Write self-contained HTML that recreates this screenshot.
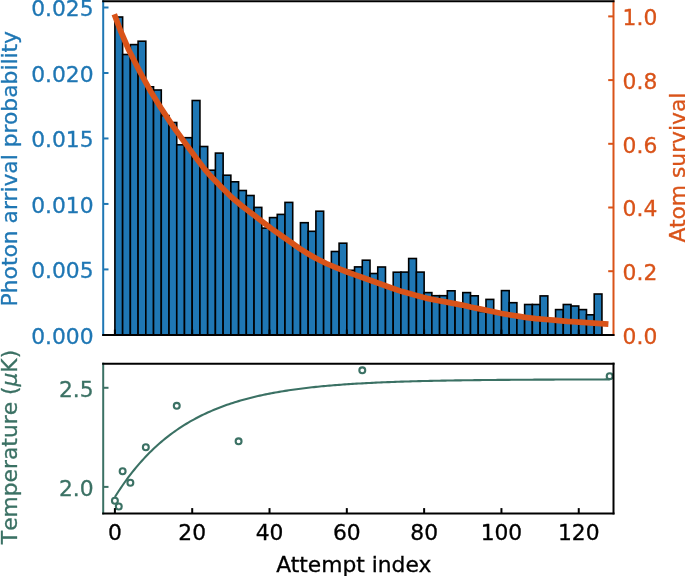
<!DOCTYPE html>
<html><head><meta charset="utf-8"><style>html,body{margin:0;padding:0;background:#fff;width:685px;height:576px;overflow:hidden}body{position:relative}</style></head>
<body>
<svg width="685" height="576" viewBox="0 0 685 576" style="position:absolute;left:0;top:0">
<rect width="685" height="576" fill="#fff"/>
<g>
<rect x="114.90" y="17.00" width="7.73" height="317.90" fill="#1f77b4" stroke="#000" stroke-width="1.6"/>
<rect x="122.63" y="54.50" width="7.73" height="280.40" fill="#1f77b4" stroke="#000" stroke-width="1.6"/>
<rect x="130.36" y="44.60" width="7.73" height="290.30" fill="#1f77b4" stroke="#000" stroke-width="1.6"/>
<rect x="138.09" y="41.20" width="7.73" height="293.70" fill="#1f77b4" stroke="#000" stroke-width="1.6"/>
<rect x="145.82" y="86.80" width="7.73" height="248.10" fill="#1f77b4" stroke="#000" stroke-width="1.6"/>
<rect x="153.55" y="90.00" width="7.73" height="244.90" fill="#1f77b4" stroke="#000" stroke-width="1.6"/>
<rect x="161.28" y="115.60" width="7.73" height="219.30" fill="#1f77b4" stroke="#000" stroke-width="1.6"/>
<rect x="169.02" y="122.50" width="7.73" height="212.40" fill="#1f77b4" stroke="#000" stroke-width="1.6"/>
<rect x="176.75" y="144.80" width="7.73" height="190.10" fill="#1f77b4" stroke="#000" stroke-width="1.6"/>
<rect x="184.48" y="137.70" width="7.73" height="197.20" fill="#1f77b4" stroke="#000" stroke-width="1.6"/>
<rect x="192.21" y="100.50" width="7.73" height="234.40" fill="#1f77b4" stroke="#000" stroke-width="1.6"/>
<rect x="199.94" y="146.50" width="7.73" height="188.40" fill="#1f77b4" stroke="#000" stroke-width="1.6"/>
<rect x="207.67" y="170.20" width="7.73" height="164.70" fill="#1f77b4" stroke="#000" stroke-width="1.6"/>
<rect x="215.40" y="153.10" width="7.73" height="181.80" fill="#1f77b4" stroke="#000" stroke-width="1.6"/>
<rect x="223.13" y="175.20" width="7.73" height="159.70" fill="#1f77b4" stroke="#000" stroke-width="1.6"/>
<rect x="230.86" y="181.80" width="7.73" height="153.10" fill="#1f77b4" stroke="#000" stroke-width="1.6"/>
<rect x="238.59" y="190.50" width="7.73" height="144.40" fill="#1f77b4" stroke="#000" stroke-width="1.6"/>
<rect x="246.32" y="195.50" width="7.73" height="139.40" fill="#1f77b4" stroke="#000" stroke-width="1.6"/>
<rect x="254.05" y="207.40" width="7.73" height="127.50" fill="#1f77b4" stroke="#000" stroke-width="1.6"/>
<rect x="261.79" y="228.10" width="7.73" height="106.80" fill="#1f77b4" stroke="#000" stroke-width="1.6"/>
<rect x="269.52" y="217.60" width="7.73" height="117.30" fill="#1f77b4" stroke="#000" stroke-width="1.6"/>
<rect x="277.25" y="214.40" width="7.73" height="120.50" fill="#1f77b4" stroke="#000" stroke-width="1.6"/>
<rect x="284.98" y="202.40" width="7.73" height="132.50" fill="#1f77b4" stroke="#000" stroke-width="1.6"/>
<rect x="292.71" y="246.20" width="7.73" height="88.70" fill="#1f77b4" stroke="#000" stroke-width="1.6"/>
<rect x="300.44" y="222.70" width="7.73" height="112.20" fill="#1f77b4" stroke="#000" stroke-width="1.6"/>
<rect x="308.17" y="231.30" width="7.73" height="103.60" fill="#1f77b4" stroke="#000" stroke-width="1.6"/>
<rect x="315.90" y="211.20" width="7.73" height="123.70" fill="#1f77b4" stroke="#000" stroke-width="1.6"/>
<rect x="323.63" y="264.00" width="7.73" height="70.90" fill="#1f77b4" stroke="#000" stroke-width="1.6"/>
<rect x="331.36" y="251.50" width="7.73" height="83.40" fill="#1f77b4" stroke="#000" stroke-width="1.6"/>
<rect x="339.09" y="243.20" width="7.73" height="91.70" fill="#1f77b4" stroke="#000" stroke-width="1.6"/>
<rect x="346.82" y="270.30" width="7.73" height="64.60" fill="#1f77b4" stroke="#000" stroke-width="1.6"/>
<rect x="354.55" y="266.90" width="7.73" height="68.00" fill="#1f77b4" stroke="#000" stroke-width="1.6"/>
<rect x="362.29" y="260.20" width="7.73" height="74.70" fill="#1f77b4" stroke="#000" stroke-width="1.6"/>
<rect x="370.02" y="273.50" width="7.73" height="61.40" fill="#1f77b4" stroke="#000" stroke-width="1.6"/>
<rect x="377.75" y="267.00" width="7.73" height="67.90" fill="#1f77b4" stroke="#000" stroke-width="1.6"/>
<rect x="385.48" y="287.00" width="7.73" height="47.90" fill="#1f77b4" stroke="#000" stroke-width="1.6"/>
<rect x="393.21" y="272.20" width="7.73" height="62.70" fill="#1f77b4" stroke="#000" stroke-width="1.6"/>
<rect x="400.94" y="272.10" width="7.73" height="62.80" fill="#1f77b4" stroke="#000" stroke-width="1.6"/>
<rect x="408.67" y="258.50" width="7.73" height="76.40" fill="#1f77b4" stroke="#000" stroke-width="1.6"/>
<rect x="416.40" y="272.10" width="7.73" height="62.80" fill="#1f77b4" stroke="#000" stroke-width="1.6"/>
<rect x="424.13" y="292.60" width="7.73" height="42.30" fill="#1f77b4" stroke="#000" stroke-width="1.6"/>
<rect x="431.86" y="295.70" width="7.73" height="39.20" fill="#1f77b4" stroke="#000" stroke-width="1.6"/>
<rect x="439.59" y="295.70" width="7.73" height="39.20" fill="#1f77b4" stroke="#000" stroke-width="1.6"/>
<rect x="447.32" y="290.80" width="7.73" height="44.10" fill="#1f77b4" stroke="#000" stroke-width="1.6"/>
<rect x="455.06" y="303.60" width="7.73" height="31.30" fill="#1f77b4" stroke="#000" stroke-width="1.6"/>
<rect x="462.79" y="292.60" width="7.73" height="42.30" fill="#1f77b4" stroke="#000" stroke-width="1.6"/>
<rect x="470.52" y="295.80" width="7.73" height="39.10" fill="#1f77b4" stroke="#000" stroke-width="1.6"/>
<rect x="478.25" y="311.60" width="7.73" height="23.30" fill="#1f77b4" stroke="#000" stroke-width="1.6"/>
<rect x="485.98" y="299.40" width="7.73" height="35.50" fill="#1f77b4" stroke="#000" stroke-width="1.6"/>
<rect x="493.71" y="312.00" width="7.73" height="22.90" fill="#1f77b4" stroke="#000" stroke-width="1.6"/>
<rect x="501.44" y="290.60" width="7.73" height="44.30" fill="#1f77b4" stroke="#000" stroke-width="1.6"/>
<rect x="509.17" y="302.70" width="7.73" height="32.20" fill="#1f77b4" stroke="#000" stroke-width="1.6"/>
<rect x="516.90" y="316.40" width="7.73" height="18.50" fill="#1f77b4" stroke="#000" stroke-width="1.6"/>
<rect x="524.63" y="304.50" width="7.73" height="30.40" fill="#1f77b4" stroke="#000" stroke-width="1.6"/>
<rect x="532.36" y="304.50" width="7.73" height="30.40" fill="#1f77b4" stroke="#000" stroke-width="1.6"/>
<rect x="540.09" y="295.90" width="7.73" height="39.00" fill="#1f77b4" stroke="#000" stroke-width="1.6"/>
<rect x="547.82" y="319.50" width="7.73" height="15.40" fill="#1f77b4" stroke="#000" stroke-width="1.6"/>
<rect x="555.56" y="309.60" width="7.73" height="25.30" fill="#1f77b4" stroke="#000" stroke-width="1.6"/>
<rect x="563.29" y="304.50" width="7.73" height="30.40" fill="#1f77b4" stroke="#000" stroke-width="1.6"/>
<rect x="571.02" y="306.00" width="7.73" height="28.90" fill="#1f77b4" stroke="#000" stroke-width="1.6"/>
<rect x="578.75" y="309.60" width="7.73" height="25.30" fill="#1f77b4" stroke="#000" stroke-width="1.6"/>
<rect x="586.48" y="314.80" width="7.73" height="20.10" fill="#1f77b4" stroke="#000" stroke-width="1.6"/>
<rect x="594.21" y="294.00" width="7.73" height="40.90" fill="#1f77b4" stroke="#000" stroke-width="1.6"/>
</g>
<path d="M114.3,14.3 L121.1,32.2 L128.8,50.0 L140.0,72.0 L150.4,90.9 L160.8,107.7 L171.2,123.6 L175.4,129.6 L185.8,143.9 L196.3,158.1 L204.6,169.1 L210.4,175.8 L220.8,186.5 L231.3,197.0 L241.7,205.7 L250.4,212.4 L260.8,220.4 L271.3,228.5 L281.7,235.9 L292.1,243.2 L299.4,248.3 L305.4,252.2 L315.8,258.2 L326.3,263.5 L336.7,267.9 L347.1,272.0 L354.4,274.7 L360.4,276.8 L370.8,280.5 L381.3,284.3 L391.7,288.0 L402.1,291.6 L409.4,293.6 L415.4,295.2 L425.8,298.1 L436.3,300.2 L446.7,302.1 L457.1,304.1 L464.4,305.5 L470.4,307.0 L480.8,309.1 L491.3,311.3 L501.7,313.5 L512.1,315.3 L519.4,316.4 L525.4,317.4 L535.8,318.6 L546.3,319.5 L556.7,320.4 L567.1,321.3 L572.0,321.6 L608.4,324.2" fill="none" stroke="#d95319" stroke-width="5.7" stroke-linejoin="round"/>
<line x1="103.2" y1="1.3" x2="103.2" y2="334.9" stroke="#1f77b4" stroke-width="2.0" stroke-linecap="square"/>
<line x1="613.5" y1="1.3" x2="613.5" y2="334.9" stroke="#d95319" stroke-width="2.0" stroke-linecap="square"/>
<line x1="103.2" y1="1.3" x2="613.5" y2="1.3" stroke="#000" stroke-width="2.0" stroke-linecap="square"/>
<line x1="103.2" y1="334.9" x2="613.5" y2="334.9" stroke="#000" stroke-width="2.0" stroke-linecap="square"/>
<line x1="114.90" y1="334.9" x2="114.90" y2="329.59999999999997" stroke="#000" stroke-width="2.0"/>
<line x1="192.21" y1="334.9" x2="192.21" y2="329.59999999999997" stroke="#000" stroke-width="2.0"/>
<line x1="269.52" y1="334.9" x2="269.52" y2="329.59999999999997" stroke="#000" stroke-width="2.0"/>
<line x1="346.82" y1="334.9" x2="346.82" y2="329.59999999999997" stroke="#000" stroke-width="2.0"/>
<line x1="424.13" y1="334.9" x2="424.13" y2="329.59999999999997" stroke="#000" stroke-width="2.0"/>
<line x1="501.44" y1="334.9" x2="501.44" y2="329.59999999999997" stroke="#000" stroke-width="2.0"/>
<line x1="578.75" y1="334.9" x2="578.75" y2="329.59999999999997" stroke="#000" stroke-width="2.0"/>
<text transform="translate(93.60,343.80) scale(1.047,1)" font-family="DejaVu Sans, sans-serif" font-size="20.83" fill="#1f77b4" stroke="#1f77b4" stroke-width="0.3" text-anchor="end">0.000</text>
<line x1="103.2" y1="269.42" x2="108.5" y2="269.42" stroke="#1f77b4" stroke-width="2.0"/>
<text transform="translate(93.60,278.32) scale(1.047,1)" font-family="DejaVu Sans, sans-serif" font-size="20.83" fill="#1f77b4" stroke="#1f77b4" stroke-width="0.3" text-anchor="end">0.005</text>
<line x1="103.2" y1="203.94" x2="108.5" y2="203.94" stroke="#1f77b4" stroke-width="2.0"/>
<text transform="translate(93.60,212.84) scale(1.047,1)" font-family="DejaVu Sans, sans-serif" font-size="20.83" fill="#1f77b4" stroke="#1f77b4" stroke-width="0.3" text-anchor="end">0.010</text>
<line x1="103.2" y1="138.46" x2="108.5" y2="138.46" stroke="#1f77b4" stroke-width="2.0"/>
<text transform="translate(93.60,147.36) scale(1.047,1)" font-family="DejaVu Sans, sans-serif" font-size="20.83" fill="#1f77b4" stroke="#1f77b4" stroke-width="0.3" text-anchor="end">0.015</text>
<line x1="103.2" y1="72.98" x2="108.5" y2="72.98" stroke="#1f77b4" stroke-width="2.0"/>
<text transform="translate(93.60,81.88) scale(1.047,1)" font-family="DejaVu Sans, sans-serif" font-size="20.83" fill="#1f77b4" stroke="#1f77b4" stroke-width="0.3" text-anchor="end">0.020</text>
<line x1="103.2" y1="7.50" x2="108.5" y2="7.50" stroke="#1f77b4" stroke-width="2.0"/>
<text transform="translate(93.60,16.40) scale(1.047,1)" font-family="DejaVu Sans, sans-serif" font-size="20.83" fill="#1f77b4" stroke="#1f77b4" stroke-width="0.3" text-anchor="end">0.025</text>
<text transform="translate(622.60,343.80) scale(1.047,1)" font-family="DejaVu Sans, sans-serif" font-size="20.83" fill="#d95319" stroke="#d95319" stroke-width="0.3">0.0</text>
<line x1="608.2" y1="271.20" x2="613.5" y2="271.20" stroke="#d95319" stroke-width="2.0"/>
<text transform="translate(622.60,280.10) scale(1.047,1)" font-family="DejaVu Sans, sans-serif" font-size="20.83" fill="#d95319" stroke="#d95319" stroke-width="0.3">0.2</text>
<line x1="608.2" y1="207.50" x2="613.5" y2="207.50" stroke="#d95319" stroke-width="2.0"/>
<text transform="translate(622.60,216.40) scale(1.047,1)" font-family="DejaVu Sans, sans-serif" font-size="20.83" fill="#d95319" stroke="#d95319" stroke-width="0.3">0.4</text>
<line x1="608.2" y1="143.80" x2="613.5" y2="143.80" stroke="#d95319" stroke-width="2.0"/>
<text transform="translate(622.60,152.70) scale(1.047,1)" font-family="DejaVu Sans, sans-serif" font-size="20.83" fill="#d95319" stroke="#d95319" stroke-width="0.3">0.6</text>
<line x1="608.2" y1="80.10" x2="613.5" y2="80.10" stroke="#d95319" stroke-width="2.0"/>
<text transform="translate(622.60,89.00) scale(1.047,1)" font-family="DejaVu Sans, sans-serif" font-size="20.83" fill="#d95319" stroke="#d95319" stroke-width="0.3">0.8</text>
<line x1="608.2" y1="16.40" x2="613.5" y2="16.40" stroke="#d95319" stroke-width="2.0"/>
<text transform="translate(622.60,25.30) scale(1.047,1)" font-family="DejaVu Sans, sans-serif" font-size="20.83" fill="#d95319" stroke="#d95319" stroke-width="0.3">1.0</text>
<text transform="translate(16.90,168.70) rotate(-90) scale(1.047,1)" font-family="DejaVu Sans, sans-serif" font-size="20.83" fill="#1f77b4" stroke="#1f77b4" stroke-width="0.3" text-anchor="middle">Photon arrival probability</text>
<text transform="translate(684.60,167.60) rotate(-90) scale(1.047,1)" font-family="DejaVu Sans, sans-serif" font-size="20.83" fill="#d95319" stroke="#d95319" stroke-width="0.3" text-anchor="middle">Atom survival</text>
<path d="M114.90,497.01 L116.83,493.95 L118.77,490.97 L120.70,488.07 L122.63,485.25 L124.56,482.49 L126.50,479.81 L128.43,477.20 L130.36,474.66 L132.29,472.18 L134.23,469.77 L136.16,467.42 L138.09,465.13 L140.03,462.90 L141.96,460.73 L143.89,458.61 L145.82,456.55 L147.76,454.54 L149.69,452.59 L151.62,450.68 L153.55,448.83 L155.49,447.02 L157.42,445.26 L159.35,443.55 L161.28,441.88 L163.22,440.25 L165.15,438.67 L167.08,437.13 L169.02,435.63 L170.95,434.16 L172.88,432.74 L174.81,431.35 L176.75,430.00 L178.68,428.68 L180.61,427.40 L182.54,426.15 L184.48,424.93 L186.41,423.74 L188.34,422.59 L190.28,421.46 L192.21,420.37 L194.14,419.30 L196.07,418.26 L198.01,417.25 L199.94,416.26 L201.87,415.30 L203.80,414.37 L205.74,413.45 L207.67,412.57 L209.60,411.70 L211.54,410.86 L213.47,410.04 L215.40,409.24 L217.33,408.46 L219.27,407.70 L221.20,406.97 L223.13,406.25 L225.06,405.55 L227.00,404.86 L228.93,404.20 L230.86,403.55 L232.79,402.92 L234.73,402.31 L236.66,401.71 L238.59,401.13 L240.53,400.56 L242.46,400.01 L244.39,399.47 L246.32,398.94 L248.26,398.43 L250.19,397.94 L252.12,397.45 L254.05,396.98 L255.99,396.52 L257.92,396.07 L259.85,395.64 L261.79,395.21 L263.72,394.80 L265.65,394.39 L267.58,394.00 L269.52,393.62 L271.45,393.25 L273.38,392.88 L275.31,392.53 L277.25,392.19 L279.18,391.85 L281.11,391.52 L283.04,391.21 L284.98,390.90 L286.91,390.59 L288.84,390.30 L290.78,390.01 L292.71,389.74 L294.64,389.46 L296.57,389.20 L298.51,388.94 L300.44,388.69 L302.37,388.45 L304.30,388.21 L306.24,387.98 L308.17,387.75 L310.10,387.53 L312.04,387.32 L313.97,387.11 L315.90,386.90 L317.83,386.71 L319.77,386.51 L321.70,386.32 L323.63,386.14 L325.56,385.96 L327.50,385.79 L329.43,385.62 L331.36,385.46 L333.30,385.30 L335.23,385.14 L337.16,384.99 L339.09,384.84 L341.03,384.69 L342.96,384.55 L344.89,384.42 L346.82,384.28 L348.76,384.15 L350.69,384.03 L352.62,383.90 L354.55,383.78 L356.49,383.67 L358.42,383.55 L360.35,383.44 L362.29,383.33 L364.22,383.23 L366.15,383.12 L368.08,383.02 L370.02,382.93 L371.95,382.83 L373.88,382.74 L375.81,382.65 L377.75,382.56 L379.68,382.48 L381.61,382.39 L383.55,382.31 L385.48,382.23 L387.41,382.16 L389.34,382.08 L391.28,382.01 L393.21,381.94 L395.14,381.87 L397.07,381.80 L399.01,381.74 L400.94,381.67 L402.87,381.61 L404.81,381.55 L406.74,381.49 L408.67,381.43 L410.60,381.38 L412.54,381.32 L414.47,381.27 L416.40,381.22 L418.33,381.17 L420.27,381.12 L422.20,381.07 L424.13,381.02 L426.06,380.98 L428.00,380.93 L429.93,380.89 L431.86,380.85 L433.80,380.81 L435.73,380.77 L437.66,380.73 L439.59,380.69 L441.53,380.66 L443.46,380.62 L445.39,380.59 L447.32,380.55 L449.26,380.52 L451.19,380.49 L453.12,380.45 L455.06,380.42 L456.99,380.39 L458.92,380.37 L460.85,380.34 L462.79,380.31 L464.72,380.28 L466.65,380.26 L468.58,380.23 L470.52,380.21 L472.45,380.18 L474.38,380.16 L476.31,380.14 L478.25,380.11 L480.18,380.09 L482.11,380.07 L484.05,380.05 L485.98,380.03 L487.91,380.01 L489.84,379.99 L491.78,379.97 L493.71,379.95 L495.64,379.94 L497.57,379.92 L499.51,379.90 L501.44,379.89 L503.37,379.87 L505.31,379.86 L507.24,379.84 L509.17,379.83 L511.10,379.81 L513.04,379.80 L514.97,379.78 L516.90,379.77 L518.83,379.76 L520.77,379.75 L522.70,379.73 L524.63,379.72 L526.57,379.71 L528.50,379.70 L530.43,379.69 L532.36,379.68 L534.30,379.67 L536.23,379.66 L538.16,379.65 L540.09,379.64 L542.03,379.63 L543.96,379.62 L545.89,379.61 L547.82,379.60 L549.76,379.59 L551.69,379.58 L553.62,379.58 L555.56,379.57 L557.49,379.56 L559.42,379.55 L561.35,379.55 L563.29,379.54 L565.22,379.53 L567.15,379.53 L569.08,379.52 L571.02,379.51 L572.95,379.51 L574.88,379.50 L576.82,379.50 L578.75,379.49 L580.68,379.48 L582.61,379.48 L584.55,379.47 L586.48,379.47 L588.41,379.46 L590.34,379.46 L592.28,379.45 L594.21,379.45 L596.14,379.45 L598.08,379.44 L600.01,379.44 L601.94,379.43 L603.87,379.43 L605.81,379.42 L607.74,379.42 L609.67,379.42" fill="none" stroke="#3b7164" stroke-width="2.1" stroke-linejoin="round"/>
<circle cx="114.90" cy="500.77" r="2.95" fill="none" stroke="#3b7164" stroke-width="2.1"/>
<circle cx="118.77" cy="506.52" r="2.95" fill="none" stroke="#3b7164" stroke-width="2.1"/>
<circle cx="122.63" cy="471.24" r="2.95" fill="none" stroke="#3b7164" stroke-width="2.1"/>
<circle cx="130.36" cy="482.74" r="2.95" fill="none" stroke="#3b7164" stroke-width="2.1"/>
<circle cx="145.82" cy="447.26" r="2.95" fill="none" stroke="#3b7164" stroke-width="2.1"/>
<circle cx="176.75" cy="405.84" r="2.95" fill="none" stroke="#3b7164" stroke-width="2.1"/>
<circle cx="238.59" cy="441.31" r="2.95" fill="none" stroke="#3b7164" stroke-width="2.1"/>
<circle cx="362.29" cy="370.36" r="2.95" fill="none" stroke="#3b7164" stroke-width="2.1"/>
<circle cx="609.67" cy="376.21" r="2.95" fill="none" stroke="#3b7164" stroke-width="2.1"/>
<line x1="103.2" y1="363.7" x2="103.2" y2="513.4" stroke="#3b7164" stroke-width="2.0" stroke-linecap="square"/>
<line x1="613.5" y1="363.7" x2="613.5" y2="513.4" stroke="#000" stroke-width="2.0" stroke-linecap="square"/>
<line x1="103.2" y1="363.7" x2="613.5" y2="363.7" stroke="#000" stroke-width="2.0" stroke-linecap="square"/>
<line x1="103.2" y1="513.4" x2="613.5" y2="513.4" stroke="#000" stroke-width="2.0" stroke-linecap="square"/>
<line x1="103.2" y1="486.90" x2="108.5" y2="486.90" stroke="#3b7164" stroke-width="2.0"/>
<text transform="translate(93.60,495.80) scale(1.047,1)" font-family="DejaVu Sans, sans-serif" font-size="20.83" fill="#3b7164" stroke="#3b7164" stroke-width="0.3" text-anchor="end">2.0</text>
<line x1="103.2" y1="387.80" x2="108.5" y2="387.80" stroke="#3b7164" stroke-width="2.0"/>
<text transform="translate(93.60,396.70) scale(1.047,1)" font-family="DejaVu Sans, sans-serif" font-size="20.83" fill="#3b7164" stroke="#3b7164" stroke-width="0.3" text-anchor="end">2.5</text>
<line x1="114.90" y1="513.4" x2="114.90" y2="508.09999999999997" stroke="#000" stroke-width="2.0"/>
<text transform="translate(114.90,540.00) scale(1.047,1)" font-family="DejaVu Sans, sans-serif" font-size="20.83" fill="#000" stroke="#000" stroke-width="0.3" text-anchor="middle">0</text>
<line x1="192.21" y1="513.4" x2="192.21" y2="508.09999999999997" stroke="#000" stroke-width="2.0"/>
<text transform="translate(192.21,540.00) scale(1.047,1)" font-family="DejaVu Sans, sans-serif" font-size="20.83" fill="#000" stroke="#000" stroke-width="0.3" text-anchor="middle">20</text>
<line x1="269.52" y1="513.4" x2="269.52" y2="508.09999999999997" stroke="#000" stroke-width="2.0"/>
<text transform="translate(269.52,540.00) scale(1.047,1)" font-family="DejaVu Sans, sans-serif" font-size="20.83" fill="#000" stroke="#000" stroke-width="0.3" text-anchor="middle">40</text>
<line x1="346.82" y1="513.4" x2="346.82" y2="508.09999999999997" stroke="#000" stroke-width="2.0"/>
<text transform="translate(346.82,540.00) scale(1.047,1)" font-family="DejaVu Sans, sans-serif" font-size="20.83" fill="#000" stroke="#000" stroke-width="0.3" text-anchor="middle">60</text>
<line x1="424.13" y1="513.4" x2="424.13" y2="508.09999999999997" stroke="#000" stroke-width="2.0"/>
<text transform="translate(424.13,540.00) scale(1.047,1)" font-family="DejaVu Sans, sans-serif" font-size="20.83" fill="#000" stroke="#000" stroke-width="0.3" text-anchor="middle">80</text>
<line x1="501.44" y1="513.4" x2="501.44" y2="508.09999999999997" stroke="#000" stroke-width="2.0"/>
<text transform="translate(501.44,540.00) scale(1.047,1)" font-family="DejaVu Sans, sans-serif" font-size="20.83" fill="#000" stroke="#000" stroke-width="0.3" text-anchor="middle">100</text>
<line x1="578.75" y1="513.4" x2="578.75" y2="508.09999999999997" stroke="#000" stroke-width="2.0"/>
<text transform="translate(578.75,540.00) scale(1.047,1)" font-family="DejaVu Sans, sans-serif" font-size="20.83" fill="#000" stroke="#000" stroke-width="0.3" text-anchor="middle">120</text>
<text transform="translate(353.75,571.80) scale(1.047,1)" font-family="DejaVu Sans, sans-serif" font-size="20.83" fill="#000" stroke="#000" stroke-width="0.3" text-anchor="middle">Attempt index</text>
<text transform="translate(16.90,447.00) rotate(-90) scale(1.047,1)" font-family="DejaVu Sans, sans-serif" font-size="20.83" fill="#3b7164" stroke="#3b7164" stroke-width="0.3" text-anchor="middle" style="font-kerning:none">Temperature (<tspan font-style="italic">μ</tspan>K)</text>
</svg>
</body></html>
